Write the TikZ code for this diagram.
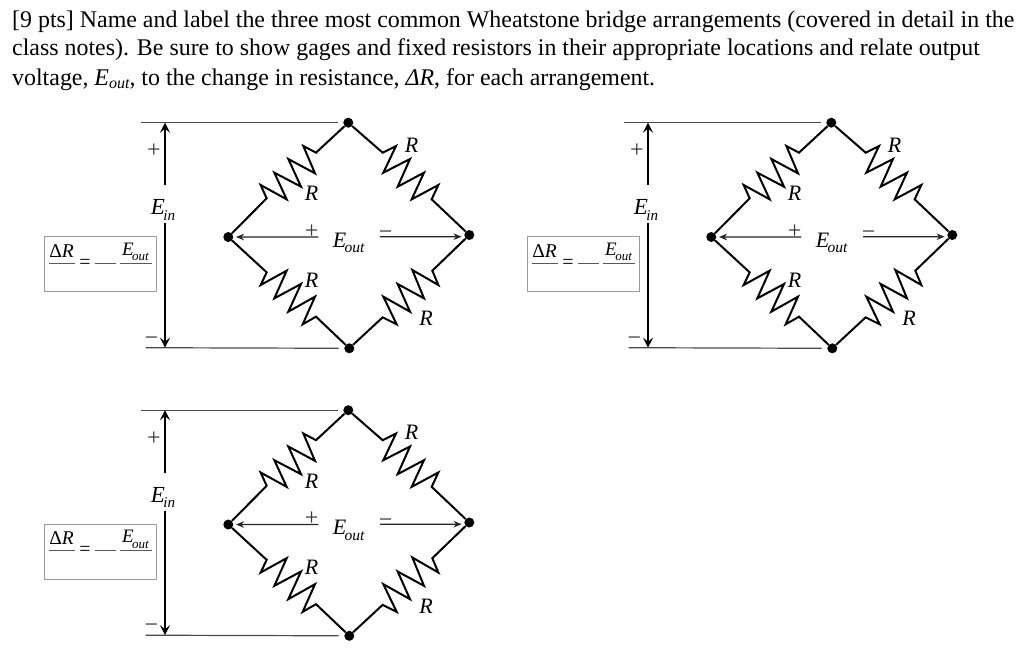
\documentclass[tikz,border=0pt]{standalone}
\usepackage{fontspec}
\setmainfont{Liberation Serif}
\usetikzlibrary{arrows.meta}
\definecolor{thinline}{HTML}{4A4A4A}
\definecolor{boxline}{HTML}{9A9A9A}
\tikzset{
  joint/.style={circle,fill=black,inner sep=0pt,minimum size=10pt},
  wire/.style={line width=2pt,black,line join=miter},
  railline/.style={line width=1.2pt,thinline},
  einarrow/.style={line width=2pt,black,-{Stealth[length=10pt,width=10pt,inset=4pt]}},
  eoutarrow/.style={line width=1.2pt,black!85,-{Stealth[length=8pt,width=6.5pt,inset=2.5pt]}},
  lbl/.style={inner sep=0pt,font=\fontsize{22}{22}\selectfont\itshape},
  sign/.style={inner sep=0pt,font=\fontsize{24}{24}\selectfont,text=black!80},
  para/.style={anchor=base west,inner sep=0pt,font=\fontsize{23.9}{27}\selectfont},
  ansbox/.style={draw=boxline,line width=1pt,fill=white},
  fracline/.style={line width=1pt,black!65}
}
\newcommand{\Esub}[3]{\fontsize{#1}{#1}\selectfont\itshape E\kern-1.5pt\raisebox{-5.5pt}{\fontsize{#2}{#2}\selectfont #3}}
\newcommand{\bridge}[3]{%
  \begin{scope}[shift={(#2,#3)}]
    % rails and input voltage
    \node[joint] (#1t) at (348.3,122.7) {};
    \node[joint] (#1b) at (349.3,348.3) {};
    \node[joint] (#1l) at (228.3,237) {};
    \node[joint] (#1r) at (469.3,235) {};
    \coordinate (#1rt) at (140.7,122.7);
    \coordinate (#1rb) at (145.7,347.7);
    \draw[railline,shorten >=5.5pt] (#1rt) -- (#1t);
    \draw[railline,shorten >=5.5pt] (#1rb) -- (#1b);
    \coordinate (#1ua) at (165,185);
    \coordinate (#1ue) at (165,122.7);
    \coordinate (#1da) at (165,223);
    \coordinate (#1de) at (165,347.7);
    \draw[einarrow] (#1ua) -- (#1ue);
    \draw[einarrow] (#1da) -- (#1de);
    \node[sign] (#1ip) at (154,151) {+};
    \node[sign] (#1im) at (151.5,341) {−};
    \node[lbl,font=\fontsize{23}{23}\selectfont] (#1ein) at (163,210) {\Esub{23}{15}{in}};
    % answer box
    \node[ansbox,minimum width=111.7pt,minimum height=55.3pt,inner sep=0pt] (#1box) at (100.8,264.3) {};
    \node[inner sep=0pt,font=\fontsize{19.5}{19.5}\selectfont] (#1dr) at (61.5,251) {Δ\textit{R}};
    \node[inner sep=0pt,font=\fontsize{20}{20}\selectfont] (#1eq) at (85,263.5) {=};
    \node[lbl] (#1eo) at (135.5,252) {\Esub{19}{13}{out}};
    \coordinate (#1f1a) at (48.5,263.3); \coordinate (#1f1b) at (75,263.3);
    \coordinate (#1f2a) at (95,263.3);   \coordinate (#1f2b) at (116,263.3);
    \coordinate (#1f3a) at (120,263.3);  \coordinate (#1f3b) at (152,263.3);
    \draw[fracline] (#1f1a) -- (#1f1b);
    \draw[fracline] (#1f2a) -- (#1f2b);
    \draw[fracline] (#1f3a) -- (#1f3b);
    % resistors, in finer coordinates
    \begin{scope}[shift={(220,110)},scale=0.33333]
      \draw[wire] (#1t) -- (288,128) -- (250,108) -- (285,190) -- (205,147) -- (243,230) -- (163,188) -- (200,268) -- (122,225) -- (140,265) -- (#1l);
      \draw[wire] (#1t) -- (488,128) -- (528,108) -- (490,188) -- (570,147) -- (533,230) -- (612,188) -- (575,268) -- (655,225) -- (635,268) -- (#1r);
      \draw[wire] (#1l) -- (140,487) -- (122,525) -- (200,482) -- (163,565) -- (243,522) -- (205,605) -- (285,560) -- (248,643) -- (288,620) -- (#1b);
      \draw[wire] (#1r) -- (637,482) -- (655,525) -- (577,480) -- (612,565) -- (533,522) -- (570,605) -- (490,560) -- (530,643) -- (488,622) -- (#1b);
      \node[lbl] (#1r1) at (275,250) {R};
      \node[lbl] (#1r2) at (575,105) {R};
      \node[lbl] (#1r3) at (275,510) {R};
      \node[lbl] (#1r4) at (618,625) {R};
      \node[sign] (#1op) at (275,364) {+};
      \node[sign] (#1om) at (497,376) {−};
      \node[lbl] (#1eout) at (386,398) {\Esub{22}{15.5}{out}};
      \coordinate (#1oa) at (295,381);
      \coordinate (#1ob) at (480,380);
      \draw[eoutarrow,shorten >=2.5pt] (#1oa) -- (#1l.east);
      \draw[eoutarrow,shorten >=2.5pt] (#1ob) -- ([yshift=-5pt]#1r.west);
    \end{scope}
  \end{scope}}
\begin{document}
\begin{tikzpicture}[x=1pt,y=-1pt]
  \useasboundingbox (0,0) rectangle (1024,657);
  \fill[white] (0,0) rectangle (1024,657);
  \node[para] (line1) at (12,27) {[9 pts] Name and label the three most common Wheatstone bridge arrangements (covered in detail in the};
  \node[para] (line2) at (12,55) {class notes). Be sure to show gages and fixed resistors in their appropriate locations and relate output};
  \node[para] (line3) at (12,85.5) {voltage, \textit{E\raisebox{-2.5pt}{\fontsize{16}{16}\selectfont out}}, to the change in resistance, \textit{ΔR}, for each arrangement.};
  \bridge{a}{0}{0}
  \bridge{b}{483}{0}
  \bridge{c}{0}{287.5}
\end{tikzpicture}
\end{document}
